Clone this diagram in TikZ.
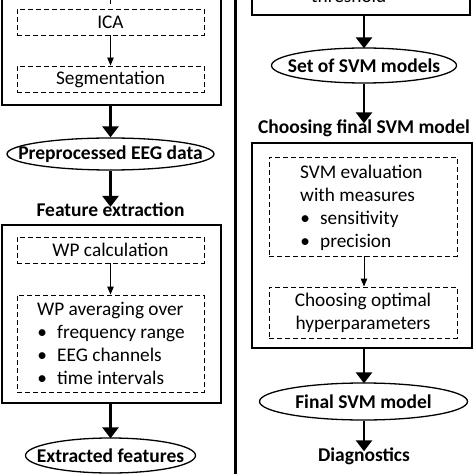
\documentclass[tikz,border=0pt]{standalone}
\usepackage{fontspec}
\setmainfont{Carlito}
\usetikzlibrary{shapes.geometric,arrows.meta,calc}
\tikzset{
  outerbox/.style={draw, line width=1.4bp, rectangle, inner sep=0pt},
  dbox/.style={draw, line width=0.9bp, dash pattern=on 5bp off 3bp, rectangle, inner sep=0pt, align=center},
  oval/.style={draw, line width=1.3bp, ellipse, inner sep=0pt},
  head/.style={font=\fontsize{19.5bp}{23bp}\selectfont\bfseries, inner sep=0pt},
  bigarrow/.style={line width=2.8bp, -{Triangle[width=16bp,length=11bp]}},
  thinarrow/.style={line width=0.9bp, -{Triangle[width=6.5bp,length=8bp]}},
}
\newcommand{\bul}[1]{\makebox[10bp][c]{\textbullet}\hspace{10bp}#1}
\begin{document}
\begin{tikzpicture}[x=1bp,y=-1bp,font=\fontsize{19.3bp}{23bp}\selectfont]
\useasboundingbox (0,0) rectangle (474,474);
\clip (0,0) rectangle (474,474);
% divider
\coordinate (dtop) at (235.5,-5);
\coordinate (dbot) at (235.5,480);
\draw[line width=2.5bp] (dtop) -- (dbot);
% ---------- left column ----------
\node[outerbox, minimum width=219bp, minimum height=110bp] (L1) at (111.5,50) {};
\node[dbox, minimum width=187bp, minimum height=26bp] (ica) at (110.5,22) {ICA};
\node[dbox, minimum width=187bp, minimum height=26bp] (seg) at (110.5,79) {Segmentation};
\coordinate (icastub) at (110.5,-3);
\draw[line width=0.9bp] (icastub) -- ($(icastub)+(0,7)$);
\draw[thinarrow] (ica.south) -- (seg.north);
\node[oval, minimum width=207bp, minimum height=32bp] (pre) at (110.5,154) {};
\node[head] (pretext) at (pre.center) {Preprocessed EEG data};
\draw[bigarrow] (L1.south -| pre.north) -- (pre.north);
\node[head] (fe) at (110.5,210) {Feature extraction};
\draw[bigarrow] (pre.south) -- ([yshift=-4bp]fe.north);
\node[outerbox, minimum width=219bp, minimum height=178bp] (L2) at (111.5,314) {};
\node[dbox, minimum width=187bp, minimum height=26bp] (wpc) at (110.5,250) {WP calculation};
\node[dbox, minimum width=187bp, minimum height=97bp] (wpa) at (110.5,343.5) {};
\node[inner sep=0pt, align=left, anchor=west] (wpatext) at (37,343.5) {WP averaging over\\\bul{frequency range}\\\bul{EEG channels}\\\bul{time intervals}};
\draw[thinarrow] (wpc.south) -- (wpa.north);
\node[oval, minimum width=170bp, minimum height=35bp] (ext) at (110.5,455.5) {};
\node[head] (exttext) at (ext.center) {Extracted features};
\draw[bigarrow] (L2.south -| ext.north) -- ([yshift=-1bp]ext.north);
% ---------- right column ----------
\node[outerbox, minimum width=218bp, minimum height=20bp] (R1) at (361,5) {};
\node[inner sep=0pt, anchor=base west] (thr) at (291,3) {\bul{threshold}};
\node[oval, minimum width=185bp, minimum height=35bp] (set) at (364,65.5) {};
\node[head] (settext) at (set.center) {Set of SVM models};
\draw[bigarrow] (R1.south -| set.north) -- ([yshift=-1bp]set.north);
\node[head] (cfm) at (364,128) {Choosing final SVM model};
\draw[bigarrow] (set.south) -- ([yshift=-4bp]cfm.north);
\node[outerbox, minimum width=220bp, minimum height=205bp] (R2) at (362,245.5) {};
\node[dbox, minimum width=188bp, minimum height=99bp] (eval) at (363,206.5) {};
\node[inner sep=0pt, align=left, anchor=west] (evaltext) at (300,208) {SVM evaluation\\with measures\\\bul{sensitivity}\\\bul{precision}};
\node[dbox, minimum width=188bp, minimum height=51bp] (opt) at (363,312.5) {Choosing optimal\\hyperparameters};
\draw[thinarrow] (eval.south -| set.south) -- (opt.north -| set.south);
\node[oval, minimum width=208bp, minimum height=37bp] (final) at (363.5,401.5) {};
\node[head] (finaltext) at (final.center) {Final SVM model};
\draw[bigarrow] (R2.south -| set.south) -- ([yshift=-1bp]final.north -| set.south);
\node[head] (diag) at (364,456) {Diagnostics};
\draw[bigarrow] (final.south -| set.south) -- ([yshift=-4bp]diag.north);
\end{tikzpicture}
\end{document}
